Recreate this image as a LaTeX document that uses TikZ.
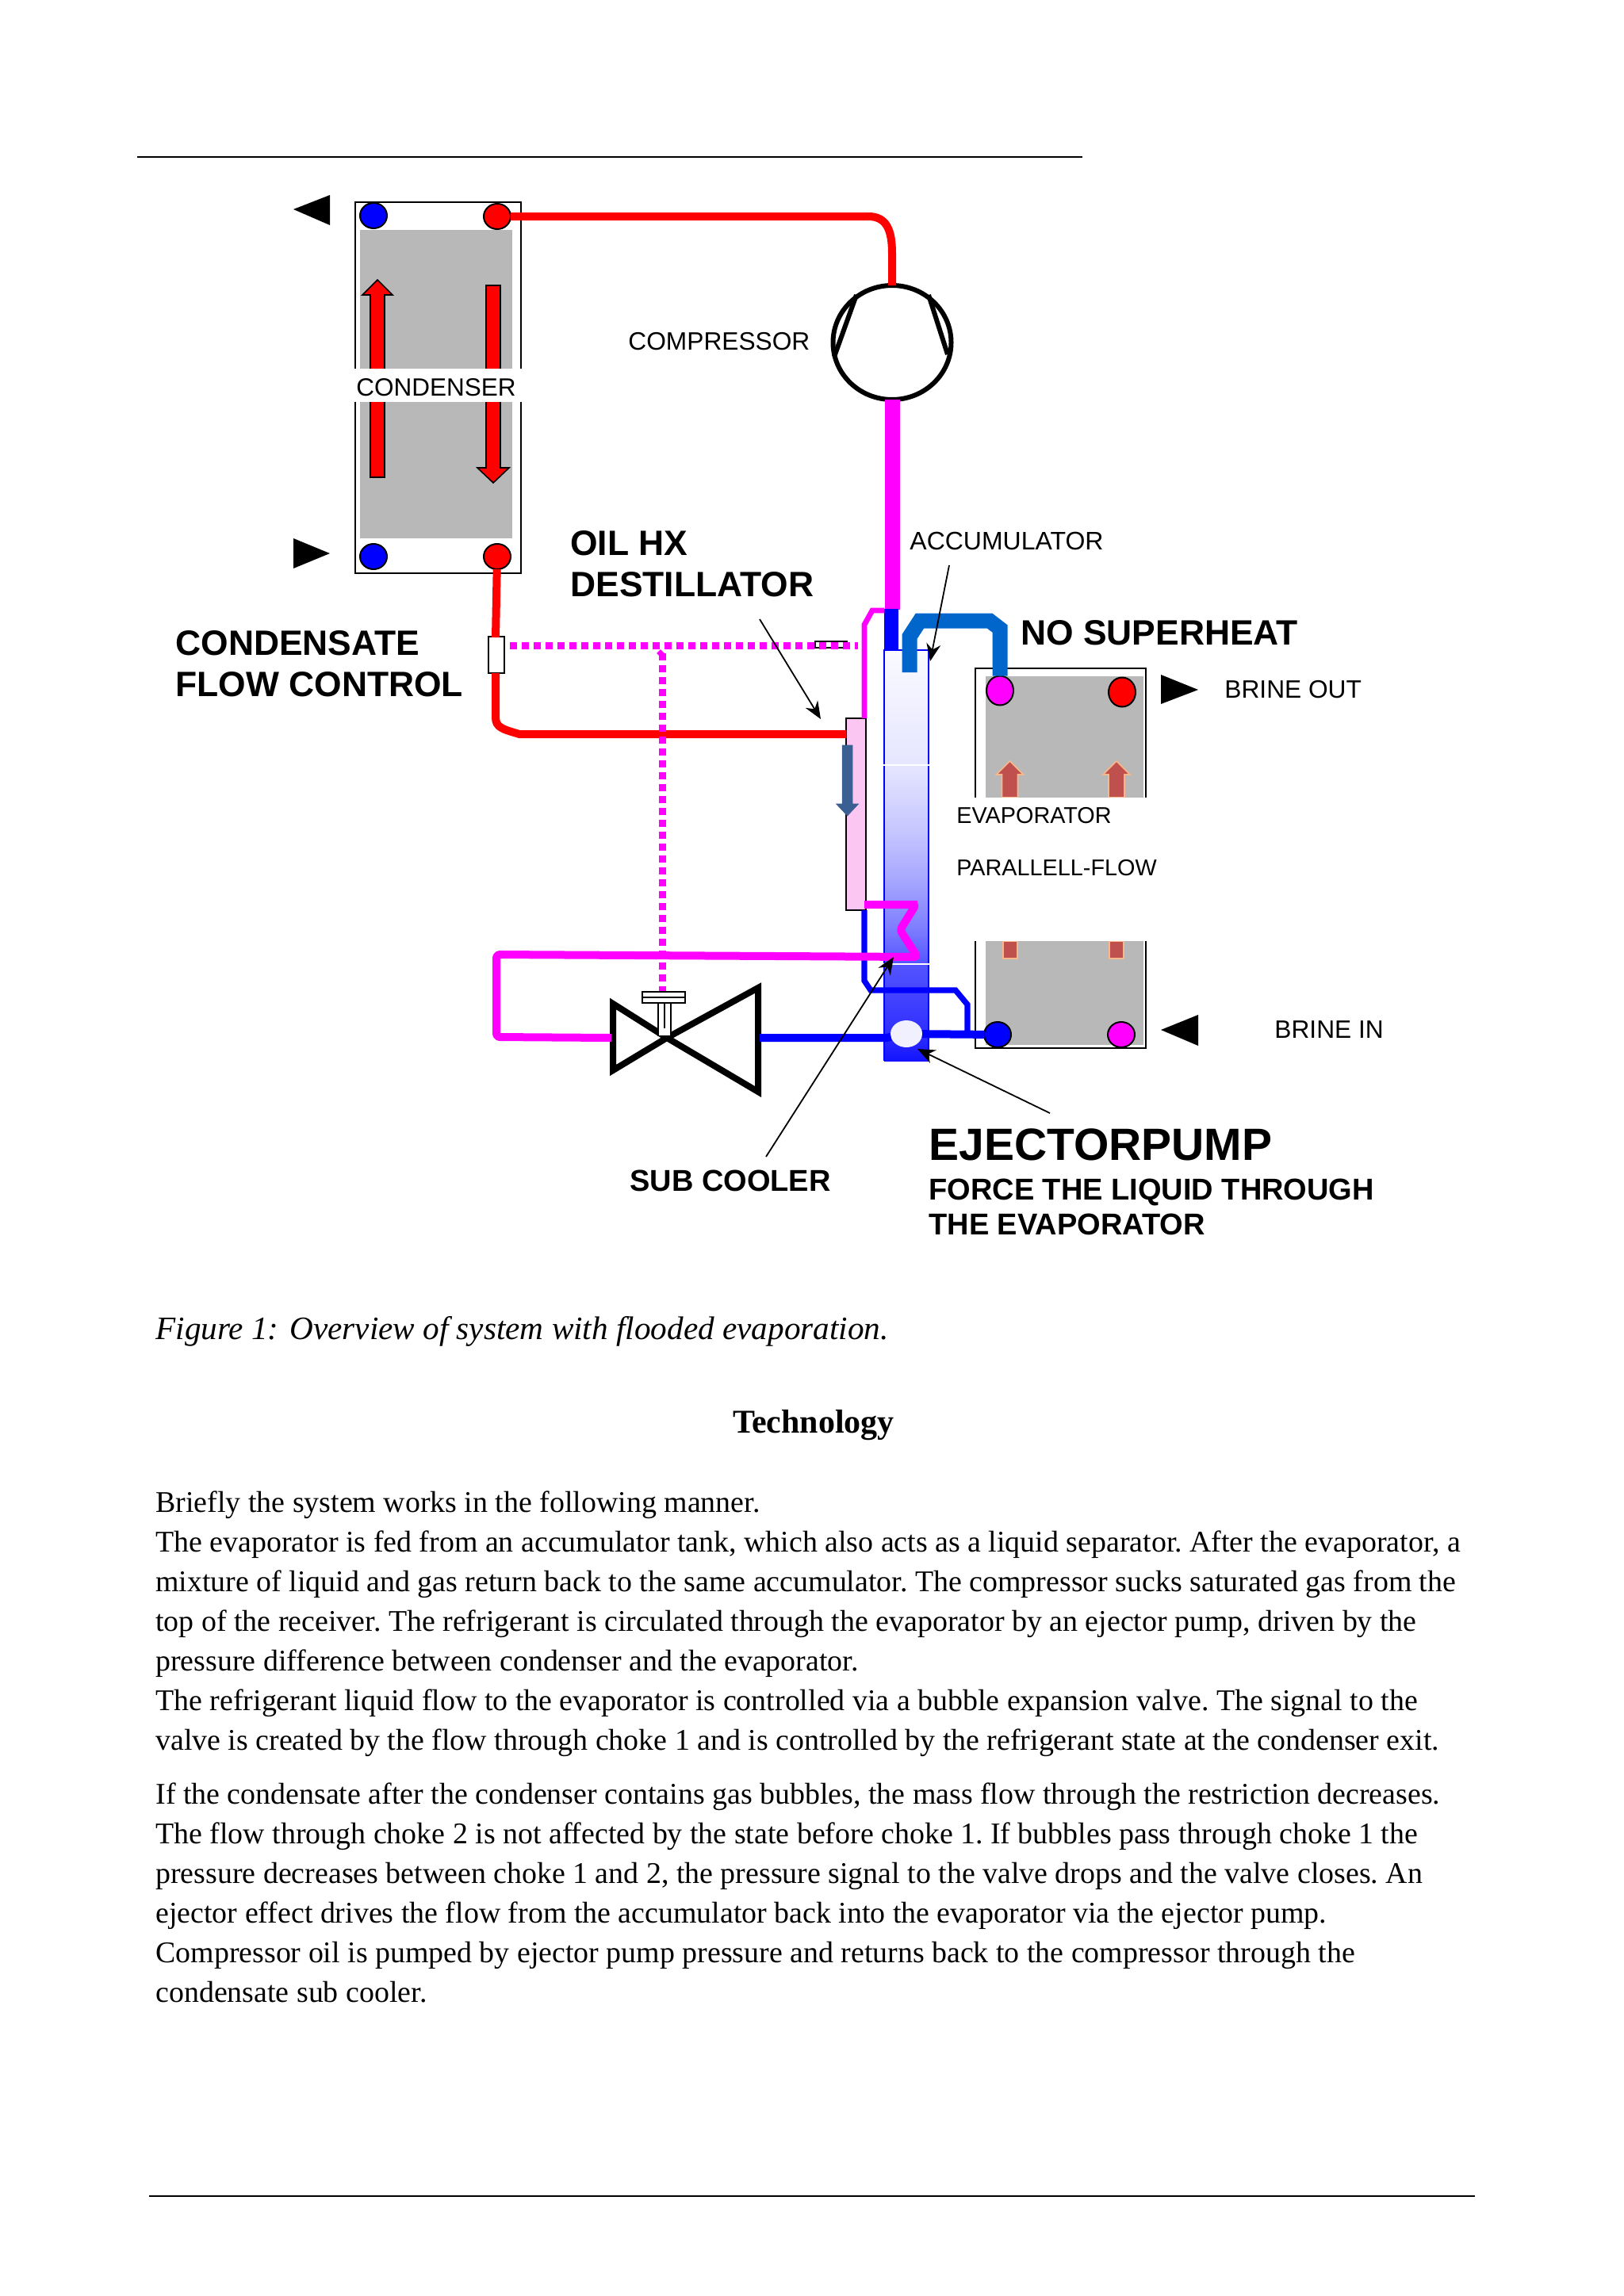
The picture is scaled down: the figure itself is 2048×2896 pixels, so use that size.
\documentclass[tikz,border=0pt]{standalone}
\usepackage{fontspec}
\setmainfont{Liberation Serif}
\newfontfamily\labelfont{Liberation Sans}
\usepackage{xcolor}
\definecolor{portblue}{HTML}{0000FF}
\definecolor{pipered}{HTML}{FF0000}
\definecolor{pipemag}{HTML}{FF00FF}
\definecolor{returnblue}{HTML}{0066CC}
\definecolor{panelgray}{HTML}{B8B8B8}
\definecolor{hxpink}{HTML}{FBC6F2}
\definecolor{flowbrown}{HTML}{C0504D}
\definecolor{flowedge}{HTML}{F8B88C}
\definecolor{oilarrow}{HTML}{3B5F92}
\usetikzlibrary{arrows.meta,shapes.geometric}
\pgfdeclareverticalshading{accumfade}{100bp}{rgb(0bp)=(.08,.08,1); rgb(25bp)=(.08,.08,1);
  rgb(28.7bp)=(.19,.19,1); rgb(36.8bp)=(.33,.33,1); rgb(41.4bp)=(.5,.5,1); rgb(47.3bp)=(.66,.66,1);
  rgb(53.2bp)=(.78,.78,1); rgb(61bp)=(.9,.9,1); rgb(75bp)=(.98,.98,1); rgb(100bp)=(.98,.98,1)}
\tikzset{
  panel/.style ={rectangle, fill=panelgray, inner sep=0pt, outer sep=0pt},
  port/.style  ={ellipse, draw=black, line width=1pt, inner sep=0pt, outer sep=0pt,
                 minimum width=17pt, minimum height=16pt},
  pipe/.style  ={line width=5pt, line join=miter},
  redpipe/.style={pipe, draw=pipered},
  magpipe/.style={pipe, draw=pipemag},
  bluepipe/.style={pipe, draw=portblue},
  signal/.style={draw=pipemag, line width=4.5pt, dash pattern=on 4.5pt off 3pt},
  lead/.style  ={-{Stealth[length=11pt,width=9pt]}, line width=0.9pt},
  valveline/.style={draw=black, line width=4pt, line join=miter},
  valvebox/.style={rectangle, draw=black, fill=white, line width=0.9pt, inner sep=0pt},
  lbl/.style   ={font=\labelfont\fontsize{15.85}{19}\selectfont, inner sep=0pt, anchor=west},
  lblsmall/.style={lbl, font=\labelfont\fontsize{14.4}{17}\selectfont},
  lblbold/.style={lbl, align=left, font=\labelfont\bfseries\fontsize{22.2}{26}\selectfont},
  lblmid/.style={lbl, align=left, font=\labelfont\bfseries\fontsize{19}{22}\selectfont},
  bodytext/.style={inner sep=0pt, anchor=north west, align=left,
                 font=\frenchspacing\fontsize{18.95}{25}\selectfont},
}
% x, tip y, head base y, tail y, half head, half shaft
\newcommand{\flowarrow}[7][]{%
  \filldraw[#1] (#2,#3) -- (#2+#6,#4) -- (#2+#7,#4) -- (#2+#7,#5) -- (#2-#7,#5)
    -- (#2-#7,#4) -- (#2-#6,#4) -- cycle;}

\begin{document}
\begin{tikzpicture}[x=0.5pt,y=-0.5pt]
  \useasboundingbox (0,0) rectangle (2048,2896);
  \draw[line width=1pt] (173,198) -- (1365,198);
  \draw[line width=1pt] (188,2770) -- (1860,2770);

  % condenser
  \draw[line width=1.3pt] (448,255) rectangle (657,723);
  \fill[panelgray] (454,290) rectangle (646,679);
  \flowarrow[fill=pipered, draw=black, line width=0.8pt]{476}{353}{372}{602}{19}{9}
  \flowarrow[fill=pipered, draw=black, line width=0.8pt]{622}{609}{590}{360}{20}{9}
  \fill[white] (444,465) rectangle (662,507);
  \node[lbl, font=\labelfont\fontsize{15.75}{19}\selectfont] (condlabel) at (449,489) {CONDENSER};
  \node[port, fill=portblue] (condcoldout) at (471,272) {};
  \node[port, fill=pipered] (condhotin) at (627,273) {};
  \node[port, fill=portblue] (condcoldin) at (471,702) {};
  \node[port, fill=pipered] (condhotout) at (627,702) {};
  \fill (370,264) -- (416,246) -- (416,284) -- cycle;
  \fill (416,698) -- (370,679) -- (370,717) -- cycle;

  % compressor
  \node[ellipse, draw=black, line width=3pt, minimum width=74.5pt, minimum height=72pt,
        inner sep=0pt, outer sep=0pt] (comp) at (1125,432) {};
  \draw[line width=3pt] (1080,372) -- (1052,450);
  \draw[line width=3pt] (1171,372) -- (1195,447);
  \draw[redpipe] (condhotin) -- (1095,273) .. controls (1118,273) and (1125,290) .. (1125,320) -- (comp);
  \coordinate (magend) at (1125,769);
  \draw[pipe, line width=9.5pt, draw=pipemag] (comp) -- (magend);
  \fill[portblue] (1115,768) rectangle (1133,820);

  % accumulator
  \shade[shading=accumfade] (1115,820) rectangle (1171,1338);
  \draw[portblue, line width=1.2pt] (1171,1338) -- (1171,820) -- (1115,820) -- (1115,1338);
  \draw[white, line width=0.8pt] (1114,965) -- (1172,965);
  \draw[white, line width=0.8pt] (1114,1216) -- (1172,1216);

  % evaporator
  \draw[line width=1.3pt] (1230,843) rectangle (1445,1322);
  \fill[panelgray] (1243,853) rectangle (1442,1006);
  \fill[panelgray] (1243,1187) rectangle (1442,1318);
  \flowarrow[fill=flowbrown, draw=flowedge, line width=0.8pt]{1273.5}{960}{977}{1006}{17}{10}
  \flowarrow[fill=flowbrown, draw=flowedge, line width=0.8pt]{1408}{960}{977}{1006}{17}{10}
  \filldraw[fill=flowbrown, draw=flowedge, line width=0.8pt] (1265,1187) rectangle (1283,1209);
  \filldraw[fill=flowbrown, draw=flowedge, line width=0.8pt] (1399,1187) rectangle (1417,1209);
  \fill[white] (1226,1006) rectangle (1450,1187);
  \node[port, fill=pipemag, minimum height=18.5pt] (evapout) at (1261,871) {};
  \node[port, fill=pipered, minimum height=18.5pt] (evaphot) at (1415,873) {};
  \node[port, fill=portblue] (evapin) at (1258,1305) {};
  \node[port, fill=pipemag] (evapmag) at (1414,1305) {};
  \fill (1511,870) -- (1464,851) -- (1464,888) -- cycle;
  \fill (1464,1299) -- (1511,1280) -- (1511,1319) -- cycle;

  % oil hx
  \node[rectangle, draw=black, fill=hxpink, line width=1.2pt, minimum width=12.5pt,
        minimum height=121pt, inner sep=0pt, outer sep=0pt] (oilhx) at (1079.5,1027) {};
  \flowarrow[fill=oilarrow, draw=oilarrow, line width=0.3pt]{1068.6}{1029}{1014}{940}{14}{6.5}
  \coordinate (sepin) at (1115,770);
  \draw[pipe, draw=pipemag, line width=3.4pt] (sepin) -- (1100,770) -- (1090,788) -- (1090,906);

  % condensate line
  \node[rectangle, draw=black, fill=white, line width=1pt, minimum width=10pt, minimum height=23pt,
        inner sep=0pt, outer sep=0pt] (choke) at (626,826) {};
  \node[rectangle, draw=black, fill=white, line width=1pt, minimum width=20pt, minimum height=4pt,
        inner sep=0pt, outer sep=0pt] (chokeb) at (1048,813) {};
  \draw[redpipe] (condhotout) -- (625,804);
  \draw[redpipe] (625,849) -- (625,905) .. controls (625,918) and (635,920) .. (655,926) -- (oilhx.west |- 0,926);

  % signal line
  \coordinate (sigleft) at (643,814);
  \coordinate (sigright) at (1082,814);
  \coordinate (sigtee) at (835.5,824);
  \draw[signal] (sigleft) -- (sigright);

  % valve
  \coordinate (valveL) at (771,1309);
  \coordinate (valveR) at (958,1309);
  \draw[valveline] (773,1266) -- (773,1350) -- (841,1309) -- cycle;
  \draw[valveline] (956,1246) -- (956,1377) -- (841,1309) -- cycle;
  \node[valvebox, minimum width=27pt, minimum height=7pt] (valvecap) at (837,1258) {};
  \node[valvebox, minimum width=8pt, minimum height=20.5pt] (valvestem) at (838,1286) {};
  \draw[line width=0.8pt] (valvecap.west) -- (valvecap.east);
  \draw[line width=0.8pt] (valvestem.north) -- (838,1297);
  \draw[signal] (sigtee) -- (valvecap.north -| sigtee);
  \node[diamond, fill=pipemag, minimum size=5pt, inner sep=0pt] (sigdot) at (833,824) {};

  % blue loops
  \draw[bluepipe, line width=3.6pt] (oilhx.south -| 1090,1148) -- (1090,1237) -- (1098,1249)
    -- (1205,1249) -- (1220,1267) -- (1220,1306);
  \node[ellipse, fill=blue!6, minimum width=20pt, minimum height=17pt, inner sep=0pt,
        outer sep=0pt] (ejector) at (1143,1304) {};
  \draw[bluepipe] (valveR) -- (1118,1309) -- (ejector);
  \draw[bluepipe] (ejector) -- (evapin);

  % magenta return
  \draw[magpipe, line join=round, rounded corners=2pt] (valveL) -- (626,1308) -- (626,1204)
    -- (1157,1207) -- (1135,1173) -- (1155,1141) -- (1090,1141);
  \fill[pipemag] (1141,1136) rectangle (1157,1146);

  % evaporator return
  \draw[pipe, draw=returnblue, line width=9.5pt] (1147,848) -- (1147,803) -- (1160,783)
    -- (1248,783) -- (1261,793) -- (evapout);

  % leaders
  \coordinate (leadaccu) at (1197,713);
  \coordinate (leadoil) at (958,781);
  \coordinate (leadsub) at (966,1459);
  \coordinate (leadejec) at (1324,1404);
  \draw[lead] (leadaccu) -- (1173,834);
  \draw[lead] (leadoil) -- (1035,907);
  \draw[lead] (leadsub) -- (1127,1207);
  \draw[lead] (leadejec) -- (1157,1323);

  % labels
  \node[lbl] (complabel) at (792,431) {COMPRESSOR};
  \node[lbl, font=\labelfont\fontsize{16}{19}\selectfont] (acculabel) at (1147,682) {ACCUMULATOR};
  \node[lblsmall] (evaplabel) at (1206,1029) {EVAPORATOR};
  \node[lblsmall] (parallabel) at (1206,1095) {PARALLELL-FLOW};
  \node[lbl] (brineout) at (1544,870) {BRINE OUT};
  \node[lbl] (brinein) at (1607,1299) {BRINE IN};
  \node[lblbold] (oillabel) at (719,711) {OIL HX\\DESTILLATOR};
  \node[lblbold] (ctrllabel) at (221,837) {CONDENSATE\\FLOW CONTROL};
  \node[lblbold] (superheat) at (1287,798) {NO SUPERHEAT};
  \node[lblmid] (sublabel) at (794,1489) {SUB COOLER};
  \node[lbl, font=\labelfont\bfseries\fontsize{28.5}{32}\selectfont] (ejeclabel) at (1171,1444) {EJECTORPUMP};
  \node[lblmid] (ejecnote) at (1171,1522) {FORCE THE LIQUID THROUGH\\THE EVAPORATOR};

  % page text
  \node[bodytext, anchor=west, font=\itshape\fontsize{20.6}{25}\selectfont] (caption) at (196,1679)
    {Figure 1: Overview of system with flooded evaporation.};
  \node[inner sep=0pt, font=\bfseries\fontsize{21}{25}\selectfont] (techhead) at (1026,1798) {Technology};
  \node[bodytext] (paraone) at (196,1880) {Briefly the system works in the following manner.\\
    The evaporator is fed from an accumulator tank, which also acts as a liquid separator. After the evaporator, a\\
    mixture of liquid and gas return back to the same accumulator. The compressor sucks saturated gas from the\\
    top of the receiver. The refrigerant is circulated through the evaporator by an ejector pump, driven by the\\
    pressure difference between condenser and the evaporator.\\
    The refrigerant liquid flow to the evaporator is controlled via a bubble expansion valve. The signal to the\\
    valve is created by the flow through choke 1 and is controlled by the refrigerant state at the condenser exit.};
  \node[bodytext] (paratwo) at (196,2248) {If the condensate after the condenser contains gas bubbles, the mass flow through the restriction decreases.\\
    The flow through choke 2 is not affected by the state before choke 1. If bubbles pass through choke 1 the\\
    pressure decreases between choke 1 and 2, the pressure signal to the valve drops and the valve closes. An\\
    ejector effect drives the flow from the accumulator back into the evaporator via the ejector pump.\\
    Compressor oil is pumped by ejector pump pressure and returns back to the compressor through the\\
    condensate sub cooler.};
\end{tikzpicture}
\end{document}
